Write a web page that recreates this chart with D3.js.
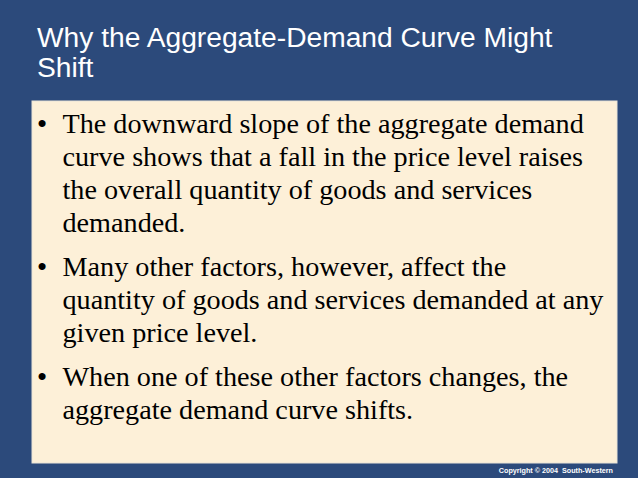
<!DOCTYPE html>
<html>
<head>
<meta charset="utf-8">
<script src="https://d3js.org/d3.v7.min.js"></script>
<style>
  html, body { margin: 0; padding: 0; background: #2c4a7b; overflow: hidden; }
</style>
</head>
<body>
<div id="slide"></div>
<script>
// slide content
var titleLines = ["Why the Aggregate-Demand Curve Might", "Shift"];
var bullets = [
  ["The downward slope of the aggregate demand",
   "curve shows that a fall in the price level raises",
   "the overall quantity of goods and services",
   "demanded."],
  ["Many other factors, however, affect the",
   "quantity of goods and services demanded at any",
   "given price level."],
  ["When one of these other factors changes, the",
   "aggregate demand curve shifts."]
];
var footer = "Copyright \u00A9 2004  South-Western";

var width = 638, height = 478;

var svg = d3.select("#slide")
  .append("svg")
    .attr("width", width)
    .attr("height", height);

svg.append("rect")
  .attr("width", width)
  .attr("height", height)
  .attr("fill", "#2c4a7b");

// title
svg.append("g")
  .selectAll("text")
  .data(titleLines)
  .enter()
  .append("text")
    .attr("x", 37)
    .attr("y", function(d, i) { return 47 + i * 30; })
    .style("font-family", "'Liberation Sans', Arial, sans-serif")
    .style("font-size", "28.2px")
    .attr("fill", "#ffffff")
    .text(function(d) { return d; });

// content box
svg.append("rect")
  .attr("x", 32)
  .attr("y", 101)
  .attr("width", 585)
  .attr("height", 362)
  .attr("fill", "#fdf0d8")
  .attr("stroke", "#e9e4d8")
  .attr("stroke-width", 1);

// lay the bullet lines out: 33px line step, 11px extra between bullets
var rows = [];
var y = 132.5;
bullets.forEach(function(lines, b) {
  lines.forEach(function(line, i) {
    rows.push({text: line, first: i === 0, y: y});
    y += 33;
  });
  y += 11;
});

var body = svg.append("g")
  .style("font-family", "'Liberation Serif', 'Times New Roman', Times, serif")
  .style("font-size", "28.2px")
  .attr("fill", "#000000");

body.selectAll("text.line")
  .data(rows)
  .enter()
  .append("text")
    .attr("class", "line")
    .attr("x", 62.5)
    .attr("y", function(d) { return d.y; })
    .text(function(d) { return d.text; });

body.selectAll("text.dot")
  .data(rows.filter(function(d) { return d.first; }))
  .enter()
  .append("text")
    .attr("class", "dot")
    .attr("x", 37.5)
    .attr("y", function(d) { return d.y - 1; })
    .style("font-family", "'Liberation Sans', Arial, sans-serif")
    .style("font-size", "26px")
    .text("\u2022");

// footer
svg.append("text")
  .attr("x", 613)
  .attr("y", 473)
  .attr("text-anchor", "end")
  .style("white-space", "pre")
  .style("font-family", "'Liberation Sans', Arial, sans-serif")
  .style("font-weight", "bold")
  .style("font-size", "7.2px")
  .attr("fill", "#ffffff")
  .text(footer);
</script>
</body>
</html>
